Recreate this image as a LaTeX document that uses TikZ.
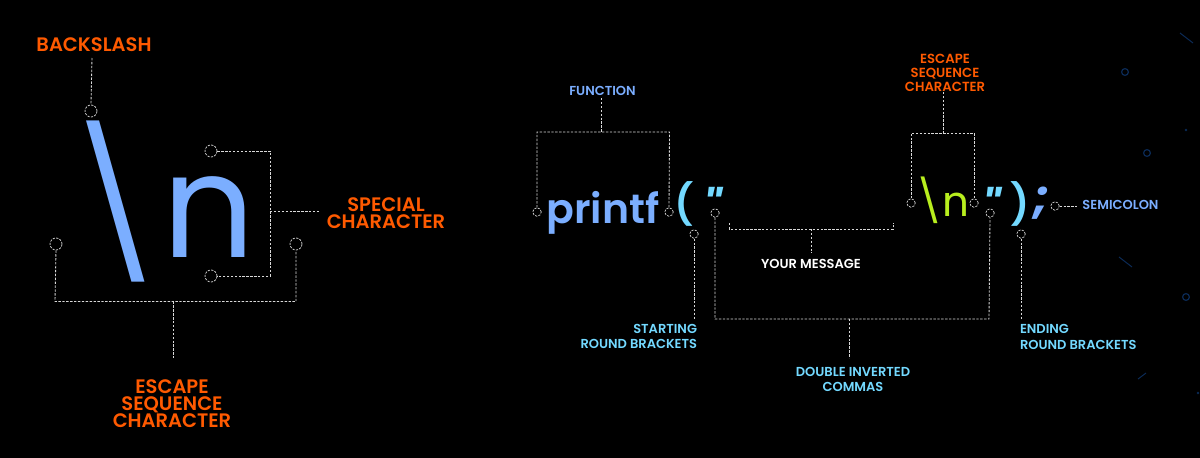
\documentclass[tikz,border=0pt]{standalone}
\usepackage{fontspec}
\setmainfont{Poppins}
\newfontfamily\popm{Poppins}[UprightFont=* SemiBold,ItalicFont=* Bold Italic]
\definecolor{orangeT}{HTML}{FF5A00}
\definecolor{blueT}{HTML}{7BAEFF}
\definecolor{cyanT}{HTML}{73D9FF}
\definecolor{limeT}{HTML}{B8EE1E}
\definecolor{deco}{HTML}{0B2A55}
\definecolor{dashT}{HTML}{D8D8D8}
\tikzset{
  x=1pt,y=-1pt,
  lab/.style 2 args={inner sep=0pt,outer sep=0pt,align=center,font=\popm\fontsize{#1}{#2}\selectfont},
  big/.style={inner sep=0pt,outer sep=0pt,anchor=base,font=\fontsize{#1}{#1}\selectfont},
  bigB/.style={inner sep=0pt,outer sep=0pt,anchor=base,font=\popm\fontsize{#1}{#1}\selectfont},
  bigI/.style={inner sep=0pt,outer sep=0pt,anchor=base,font=\popm\itshape\fontsize{#1}{#1}\selectfont},
  conn/.style={draw=dashT,line width=0.85pt,dash pattern=on 2.4pt off 1.5pt},
  ring/.style={circle,draw=dashT,line width=0.7pt,dash pattern=on 2.2pt off 1.3pt,inner sep=0pt,minimum size=12pt},
  ringS/.style={ring,minimum size=8.5pt},
  decoL/.style={draw=deco,line width=1pt},
  decoC/.style={decoL,line width=1.2pt},
}
\begin{document}
\begin{tikzpicture}
\useasboundingbox (0,0) rectangle (1200,458);
\fill[black] (0,0) rectangle (1200,458);
% decoration
\draw[decoC] (1125,72) circle[radius=3.4];
\draw[decoC] (1147,153) circle[radius=3.4];
\draw[decoC] (1186,297) circle[radius=3.4];
\fill[deco] (1186,130) circle[radius=1.4];
\fill[deco] (1198,393) circle[radius=1.4];
\draw[decoL] (1180,33) -- (1193,43);
\draw[decoL] (1119,257) -- (1132,267);
\draw[decoL] (1138,379) -- (1146,373);
% left glyphs
\node[big=145,text=blueT] (bs) at (115,257) {\textbackslash};
\node[big=145,text=blueT] (nn) at (208.5,257) {n};
% left labels
\node[lab={19.5}{17},text=orangeT] (lBack) at (94,45) {BACKSLASH};
\node[lab={19.5}{17},text=orangeT] (lSpec) at (386,213) {SPECIAL\\CHARACTER};
\node[lab={19.5}{17},text=orangeT] (lEsc) at (172,403.5) {ESCAPE\\SEQUENCE\\CHARACTER};
% left rings
\node[ring] (r1) at (91,111) {};
\node[ring] (r2) at (211,151) {};
\node[ring] (r3) at (211,276) {};
\node[ring] (r4) at (56,244) {};
\node[ring] (r5) at (296,244) {};
% left connectors
\coordinate (a1) at (92,58);
\coordinate (b1) at (270,151);
\coordinate (b2) at (270,276);
\coordinate (b3) at (270,211.5);
\coordinate (b4) at (320,211.5);
\coordinate (c1) at (55,301.5);
\coordinate (c2) at (296,301.5);
\coordinate (c3) at (173,301.5);
\coordinate (c4) at (173,358);
\draw[conn] (a1) -- (r1.north);
\draw[conn] (r2.east) -- (b1) -- (b2) -- (r3.east);
\draw[conn] (b3) -- (b4);
\draw[conn] (r4.south) -- (c1) -- (c2) -- (r5.south);
\draw[conn] (c3) -- (c4);
% right glyphs
\node[bigB=41,text=blueT] (pf) at (603,223) {printf};
\node[bigB=40,text=cyanT] (lp) at (684.5,218) {(};
\node[bigI=44,text=cyanT] (q1) at (713,222) {"};
\node[big=42,text=limeT] (bs2) at (929,216) {\textbackslash};
\node[big=42,text=limeT] (n2) at (955.5,216) {n};
\node[bigI=44,text=cyanT] (q2) at (992,222) {"};
\node[bigB=40,text=cyanT] (rp) at (1020,218) {)};
\node[bigI=46,text=blueT] (sc) at (1041.5,213) {;};
% right labels
\node[lab={13}{15},text=blueT] (lFun) at (602.5,91) {FUNCTION};
\node[lab={13.2}{14},text=orangeT] (lEsc2) at (945,73) {ESCAPE\\SEQUENCE\\CHARACTER};
\node[lab={13}{15},text=blueT] (lSemi) at (1120.5,205) {SEMICOLON};
\node[lab={13}{15},text=white] (lMsg) at (811,264) {YOUR MESSAGE};
\node[lab={13}{15.5},text=cyanT,align=right,anchor=east] (lStart) at (697,336.5) {STARTING\\ROUND BRACKETS};
\node[lab={13}{15.5},text=cyanT,align=left,anchor=west] (lEnd) at (1020,337) {ENDING\\ROUND BRACKETS};
\node[lab={13}{15.5},text=cyanT] (lDouble) at (853,379.5) {DOUBLE INVERTED\\COMMAS};
% right rings
\node[ringS] (s1) at (537,212) {};
\node[ringS] (s2) at (669,212) {};
\node[ringS] (s3) at (694,234) {};
\node[ringS] (s4) at (715,213) {};
\node[ringS] (s5) at (911,203) {};
\node[ringS] (s6) at (974,203) {};
\node[ringS] (s7) at (990,213) {};
\node[ringS] (s8) at (1021,234) {};
\node[ringS] (s9) at (1055,206) {};
% right connectors
\coordinate (f1) at (601,98);
\coordinate (f2) at (601,132);
\coordinate (f3) at (537,132);
\coordinate (f4) at (669.5,132);
\coordinate (e1) at (943,92);
\coordinate (e2) at (943,133);
\coordinate (e3) at (911,133);
\coordinate (e4) at (974,133);
\coordinate (m1) at (729,223);
\coordinate (m2) at (729,229);
\coordinate (m3) at (893,229);
\coordinate (m4) at (893,223);
\coordinate (m5) at (811,229);
\coordinate (m6) at (811,253);
\coordinate (d1) at (715,319);
\coordinate (d2) at (989,319);
\coordinate (d3) at (849,319);
\coordinate (d4) at (849,358);
\coordinate (g1) at (694,320);
\coordinate (g2) at (1021,320);
\coordinate (h1) at (1077,206);
\draw[conn] (f1) -- (f2);
\draw[conn] (s1.north) -- (f3) -- (f4) -- (s2.north);
\draw[conn] (e1) -- (e2);
\draw[conn] (s5.north) -- (e3) -- (e4) -- (s6.north);
\draw[conn] (m1) -- (m2) -- (m3) -- (m4);
\draw[conn] (m5) -- (m6);
\draw[conn] (s4.south) -- (d1) -- (d2) -- (s7.south);
\draw[conn] (d3) -- (d4);
\draw[conn] (s3.south) -- (g1);
\draw[conn] (s8.south) -- (g2);
\draw[conn] (s9.east) -- (h1);
\end{tikzpicture}
\end{document}
